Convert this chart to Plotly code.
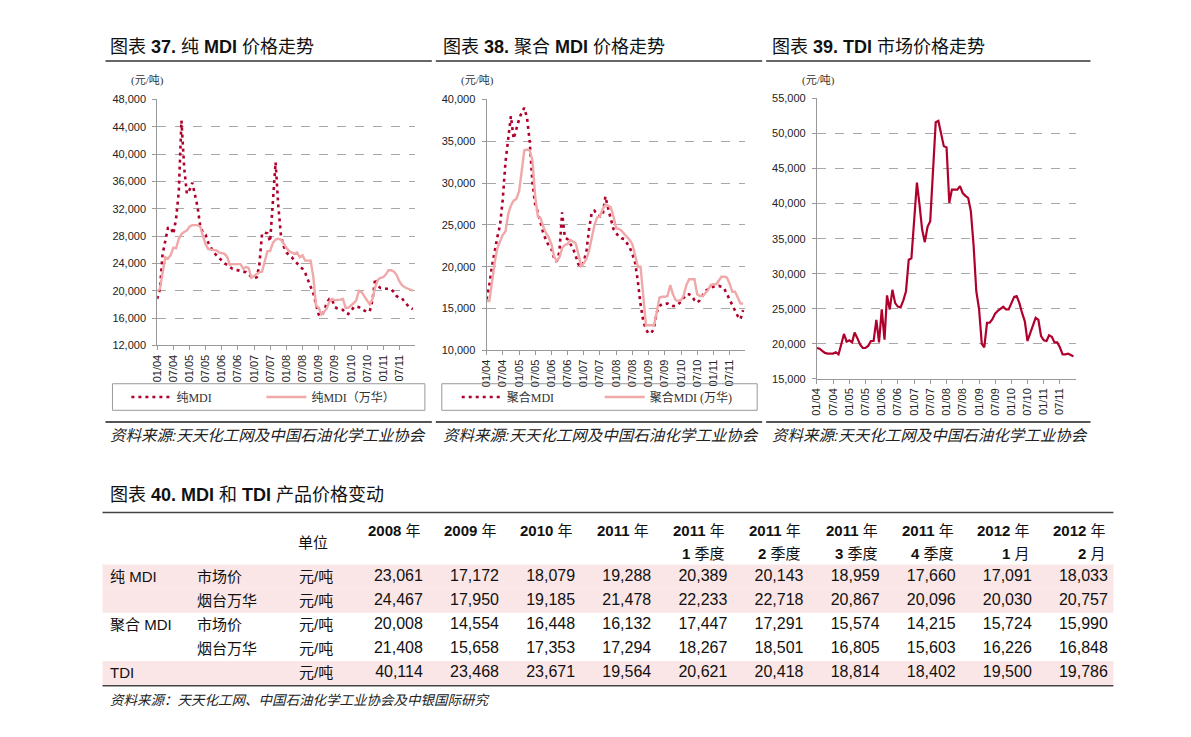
import pandas as pd
import plotly.graph_objects as go

W, H = 1191, 737

# ---------------- data ----------------
months = pd.date_range("2004-01-01", periods=96, freq="MS")
tick_dates = pd.date_range("2004-01-01", periods=16, freq="6MS")
tick_labels = ["01/04", "07/04", "01/05", "07/05", "01/06", "07/06", "01/07", "07/07",
               "01/08", "07/08", "01/09", "07/09", "01/10", "07/10", "01/11", "07/11"]

pure_mdi = [18800, 20300, 25300, 27300, 29200, 29300, 28300, 30500, 34500, 44900,
            38000, 34200, 34800, 35800, 34300, 32300, 29500, 28500, 28200, 27000,
            26300, 25600, 25200, 24800, 24300, 24000, 23800, 23500, 23200, 23100,
            23000, 23000, 22900, 22700, 22400, 22000, 21800, 22000, 23800, 28400,
            28500, 28400, 27200, 33000, 38800, 32500, 28000, 26500, 25600, 25200,
            24900, 24400, 24000, 23700, 23200, 22600, 21500, 20700, 19600, 18000,
            16500, 16300, 17000, 18200, 18800, 18700, 17600, 17400, 17300, 17200,
            16700, 16600, 17000, 17600, 17700, 17600, 17300, 17100, 16900, 17000,
            18600, 21800, 20700, 20400, 20300, 20300, 20300, 20200, 19800, 19200,
            19000, 18900, 18300, 17900, 17500, 17300]

pure_mdi_wanhua = [19900, 20300, 22500, 24900, 24700, 25200, 26300, 26200, 27600, 28300,
                   28600, 28800, 29400, 29600, 29600, 29600, 29400, 28000, 26800, 26100,
                   26000, 26000, 25900, 25600, 25500, 25400, 25000, 23800, 23900, 23900,
                   23900, 23900, 23200, 23500, 23300, 21900, 22200, 22500, 22700, 22800,
                   24500, 25800, 25800, 27000, 27500, 27600, 27500, 26800, 26300, 25800,
                   25600, 25400, 25600, 24900, 25200, 24400, 24400, 24400, 22000, 17800,
                   17500, 16500, 16900, 17400, 18400, 18800, 18600, 18600, 18700, 18800,
                   17500, 17500, 17800, 18200, 18600, 20000, 19800, 19200, 18500, 18000,
                   18800, 20500, 21600, 21900, 22000, 22400, 23000, 23000, 22800, 22300,
                   21400, 20800, 20500, 20300, 20100, 20000]

poly_mdi = [16100, 17800, 20000, 22000, 23500, 25000, 28000, 32500, 35000, 38000,
            35300, 36500, 37600, 38500, 39000, 37800, 35000, 30000, 27500, 26500,
            25300, 24000, 23200, 22500, 22100, 21000, 20600, 21800, 26500, 23500,
            23300, 22800, 22200, 21300, 20300, 20000, 20600, 22000, 24500, 26500,
            26700, 26200, 26000, 26100, 28400, 27000, 25800, 24500, 24000, 23600,
            23400, 23300, 22800, 22300, 21500, 20500, 18200, 15500, 13500, 12500,
            12000, 12100, 12600, 14500, 15300, 15500, 15500, 15600, 15400, 15300,
            15300, 15500, 15800, 16300, 16700, 16700, 16500, 16000, 15700, 16000,
            16500, 17100, 17300, 17500, 17600, 17600, 17700, 17600, 17400, 16700,
            16000, 15300, 14700, 14100, 13700, 14800]

poly_mdi_wanhua = [15900, 15900, 18000, 20500, 22200, 23000, 23800, 24200, 26300, 27300,
                   27900, 28100, 29000, 31500, 33900, 34000, 33900, 32700, 28500, 26000,
                   25800, 24800, 24000, 23500, 22700, 21200, 20700, 21100, 22200, 22600,
                   22700, 23200, 23000, 22800, 21500, 20100, 20400, 21000, 21900, 23300,
                   25000, 25900, 26000, 26900, 27400, 27300, 27100, 26000, 24600, 24500,
                   24300, 23900, 23600, 23200, 22700, 21500, 20000, 20000, 16000, 13000,
                   13000, 13000, 13000, 14500, 16300, 16400, 16400, 16500, 17800, 16700,
                   16000, 15900, 16000, 16600, 17800, 18500, 18500, 18500, 16700, 16500,
                   16500, 16800, 17200, 17800, 17900, 17900, 18300, 18800, 18800, 18700,
                   18000, 17000, 17000, 16200, 15600, 15600]

tdi_price = [19400, 19300, 19000, 18700, 18600, 18600, 18600, 18800, 18500, 19900,
             21400, 20300, 20500, 20200, 21600, 20800, 19900, 19400, 19400, 19700,
             20400, 20400, 23400, 20200, 24900, 20600, 26900, 24900, 27700, 25800,
             25300, 25200, 26200, 27500, 32000, 32200, 37000, 43000, 40000, 36300,
             34500, 36700, 37500, 45000, 51600, 51800, 49800, 48200, 48000, 40100,
             42000, 42000, 42000, 42500, 41500, 41100, 40800, 38900, 34000, 27500,
             25000, 20000, 19500, 23000, 23000, 23500, 24300, 24700, 25000, 25300,
             24900, 24900, 25800, 26700, 26800, 25800, 24400, 23200, 20400, 21600,
             22500, 23700, 23400, 21100, 20500, 20400, 21200, 21000, 20200, 20200,
             19500, 18500, 18500, 18600, 18400, 18200]

# table data
table_head1 = ["2008", "2009", "2010", "2011", "2011", "2011", "2011", "2011", "2012", "2012"]
table_head1_unit = ["年"] * 10
table_head2_num = ["", "", "", "", "1", "2", "3", "4", "1", "2"]
table_head2_txt = ["", "", "", "", "季度", "季度", "季度", "季度", "月", "月"]
row_group = ["纯 MDI", "", "聚合 MDI", "", "TDI"]
row_item = ["市场价", "烟台万华", "市场价", "烟台万华", ""]
row_unit = ["元/吨", "元/吨", "元/吨", "元/吨", "元/吨"]
pure_market = [23061, 17172, 18079, 19288, 20389, 20143, 18959, 17660, 17091, 18033]
pure_wanhua = [24467, 17950, 19185, 21478, 22233, 22718, 20867, 20096, 20030, 20757]
poly_market = [20008, 14554, 16448, 16132, 17447, 17291, 15574, 14215, 15724, 15990]
poly_wanhua = [21408, 15658, 17353, 17294, 18267, 18501, 16805, 15603, 16226, 16848]
tdi_table = [40114, 23468, 23671, 19564, 20621, 20418, 18814, 18402, 19500, 19786]
table_rows = [pure_market, pure_wanhua, poly_market, poly_wanhua, tdi_table]
pink_rows = [0, 1, 4]

# ---------------- style ----------------
DARK = "#B0002C"
PINK = "#F0A8A8"
GRID = "#A8A8A8"
AX = "#999999"
TXT = "#222222"
SANS = "Liberation Sans, Arial, Noto Sans CJK SC, sans-serif"
CJK = "Liberation Sans, Noto Sans CJK SC, sans-serif"
SERIF = "Liberation Serif, Noto Sans CJK SC, serif"


def px(x):
    return x / W


def py(y):
    return 1 - y / H


fig = go.Figure()

# chart 37
fig.add_trace(go.Scatter(x=months, y=pure_mdi, name="纯MDI", mode="lines",
                         line=dict(color=DARK, width=2.6, dash="3px,4px"),
                         xaxis="x", yaxis="y", legend="legend"))
fig.add_trace(go.Scatter(x=months, y=pure_mdi_wanhua, name="纯MDI（万华）", mode="lines",
                         line=dict(color=PINK, width=2.4),
                         xaxis="x", yaxis="y", legend="legend"))
# chart 38
fig.add_trace(go.Scatter(x=months, y=poly_mdi, name="聚合MDI", mode="lines",
                         line=dict(color=DARK, width=2.6, dash="3px,4px"),
                         xaxis="x2", yaxis="y2", legend="legend2"))
fig.add_trace(go.Scatter(x=months, y=poly_mdi_wanhua, name="聚合MDI (万华)", mode="lines",
                         line=dict(color=PINK, width=2.4),
                         xaxis="x2", yaxis="y2", legend="legend2"))
# chart 39
fig.add_trace(go.Scatter(x=months, y=tdi_price, name="TDI", mode="lines",
                         line=dict(color=DARK, width=2.2),
                         xaxis="x3", yaxis="y3", showlegend=False))

# table numbers via a hidden axis pair (column index / row index)
cols = list(range(len(table_head1)))
for r, vals in enumerate(table_rows):
    fig.add_trace(go.Scatter(x=cols, y=[r] * len(cols), mode="text",
                             text=[f"{v:,}" for v in vals], textposition="middle left",
                             textfont=dict(family=SANS, size=16, color="#111"),
                             xaxis="x4", yaxis="y4", showlegend=False, hoverinfo="skip"))

xcommon = dict(type="date", range=["2004-01-01", "2011-12-25"], tickvals=tick_dates,
               ticktext=tick_labels, tickangle=-90,
               tickfont=dict(family=SANS, size=11, color=TXT), showline=True,
               linecolor=AX, linewidth=1, ticks="outside", ticklen=4, tickcolor=AX,
               showgrid=False, zeroline=False, fixedrange=True)
ycommon = dict(showline=True, linecolor=AX, linewidth=1, ticks="outside", ticklen=4,
               tickcolor=AX, showgrid=True, gridcolor=GRID, gridwidth=1, griddash="dash",
               tickformat=",d", tickfont=dict(family=SANS, size=11, color=TXT),
               zeroline=False, fixedrange=True, ticklabelstandoff=4)

fig.update_layout(
    width=W, height=H, margin=dict(l=0, r=0, t=0, b=0),
    paper_bgcolor="white", plot_bgcolor="rgba(0,0,0,0)",
    xaxis=dict(domain=[px(152), px(411)], anchor="y", **xcommon),
    yaxis=dict(domain=[py(345), py(95)], anchor="x", range=[12000, 48000], dtick=4000, **ycommon),
    xaxis2=dict(domain=[px(483), px(743)], anchor="y2", **xcommon),
    yaxis2=dict(domain=[py(350), py(95)], anchor="x2", range=[10000, 40000], dtick=5000, **ycommon),
    xaxis3=dict(domain=[px(815), px(1075)], anchor="y3", **xcommon),
    yaxis3=dict(domain=[py(379), py(94)], anchor="x3", range=[15000, 55000], dtick=5000, **ycommon),
    xaxis4=dict(domain=[0, 1], anchor="y4", range=[-419 / 76.5, (W - 419) / 76.5], visible=False,
                fixedrange=True),
    yaxis4=dict(domain=[0, 1], anchor="x4", range=[(H - 580) / 24.5, -580 / 24.5], visible=False,
                fixedrange=True),
    legend=dict(orientation="h", x=px(121), y=py(397.5), xanchor="left", yanchor="middle",
                bgcolor="rgba(0,0,0,0)", borderwidth=0, itemwidth=40,
                entrywidth=80, entrywidthmode="pixels",
                font=dict(family=SERIF, size=12, color="#333")),
    legend2=dict(orientation="h", x=px(453), y=py(397.5), xanchor="left", yanchor="middle",
                 bgcolor="rgba(0,0,0,0)", borderwidth=0, itemwidth=40,
                 entrywidth=88, entrywidthmode="pixels",
                 font=dict(family=SERIF, size=12, color="#333")),
    showlegend=True,
)

shapes = []
annotations = []

panels = [
    dict(x0=100, x1=428, tx=103, title="图表 <b>37.</b> 纯 <b>MDI</b> 价格走势", ux=124),
    dict(x0=432, x1=760, tx=437, title="图表 <b>38.</b> 聚合 <b>MDI</b> 价格走势", ux=455),
    dict(x0=764, x1=1090, tx=768, title="图表 <b>39. TDI</b> 市场价格走势", ux=798),
]
for p in panels:
    annotations.append(dict(x=px(p["tx"]), y=py(42), xref="paper", yref="paper",
                            xanchor="left", yanchor="middle", showarrow=False,
                            text=p["title"], font=dict(family=CJK, size=18, color="#111")))
    shapes.append(dict(type="line", xref="paper", yref="paper", x0=px(p["x0"]), x1=px(p["x1"]),
                       y0=py(56), y1=py(56), line=dict(color="#333", width=1.5)))
    shapes.append(dict(type="line", xref="paper", yref="paper", x0=px(p["x0"]), x1=px(p["x1"]),
                       y0=py(423), y1=py(423), line=dict(color="#555", width=2)))
    annotations.append(dict(x=px(p["ux"]), y=py(76), xref="paper", yref="paper",
                            xanchor="left", yanchor="middle", showarrow=False,
                            text="(元/吨)", font=dict(family=SERIF, size=11, color="#333")))
    annotations.append(dict(x=px(p["tx"]), y=py(437), xref="paper", yref="paper",
                            xanchor="left", yanchor="middle", showarrow=False,
                            text="<i>资料来源:天天化工网及中国石油化学工业协会</i>",
                            font=dict(family=CJK, size=15.5, color="#222")))

# legend boxes
for (a, b) in [(107, 421), (438, 755)]:
    shapes.append(dict(type="rect", xref="paper", yref="paper", x0=px(a), x1=px(b),
                       y0=py(411), y1=py(384), line=dict(color="#999", width=1),
                       fillcolor="rgba(0,0,0,0)"))

# table
annotations.append(dict(x=px(103), y=py(497), xref="paper", yref="paper", xanchor="left",
                        yanchor="middle", showarrow=False,
                        text="图表 <b>40. MDI</b> 和 <b>TDI</b> 产品价格变动",
                        font=dict(family=CJK, size=18, color="#111")))
for r in pink_rows:
    shapes.append(dict(type="rect", xref="paper", yref="y4", x0=px(97), x1=px(1113),
                       y0=r - 0.5, y1=r + 0.5, line=dict(width=0), fillcolor="#FAE6E6",
                       layer="below"))
shapes.append(dict(type="line", xref="paper", yref="paper", x0=px(97), x1=px(1113),
                   y0=py(515), y1=py(515), line=dict(color="#444", width=1.5)))
shapes.append(dict(type="line", xref="paper", yref="paper", x0=px(97), x1=px(1113),
                   y0=py(691), y1=py(691), line=dict(color="#444", width=1.5)))

for c in cols:
    annotations.append(dict(x=c, y=-1.92, xref="x4", yref="y4", xanchor="right",
                            yanchor="middle", showarrow=False,
                            text=f"<b>{table_head1[c]}</b> {table_head1_unit[c]}",
                            font=dict(family=CJK, size=15, color="#111")))
    if table_head2_num[c]:
        annotations.append(dict(x=c, y=-0.94, xref="x4", yref="y4", xanchor="right",
                                yanchor="middle", showarrow=False,
                                text=f"<b>{table_head2_num[c]}</b> {table_head2_txt[c]}",
                                font=dict(family=CJK, size=15, color="#111")))
annotations.append(dict(x=px(291), y=py(545), xref="paper", yref="paper", xanchor="left",
                        yanchor="middle", showarrow=False, text="单位",
                        font=dict(family=CJK, size=15, color="#111")))
for r in range(len(row_unit)):
    for lab, xp in [(row_group[r], 103), (row_item[r], 190), (row_unit[r], 292)]:
        if lab:
            annotations.append(dict(x=px(xp), y=r, xref="paper", yref="y4", xanchor="left",
                                    yanchor="middle", showarrow=False, text=lab,
                                    font=dict(family=CJK, size=15, color="#111")))
annotations.append(dict(x=px(103), y=py(706), xref="paper", yref="paper", xanchor="left",
                        yanchor="middle", showarrow=False,
                        text="<i>资料来源：天天化工网、中国石油化学工业协会及中银国际研究</i>",
                        font=dict(family=CJK, size=13.5, color="#222")))

fig.update_layout(shapes=shapes, annotations=annotations)
fig.write_html("out.html")
